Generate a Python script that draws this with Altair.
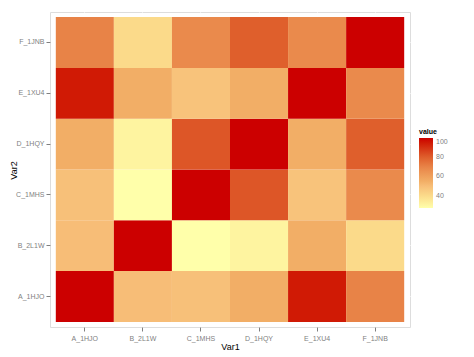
import altair as alt
import pandas as pd

names = ["A_1HJO", "B_2L1W", "C_1MHS", "D_1HQY", "E_1XU4", "F_1JNB"]

# rows = Var2, columns = Var1 (same order as names)
row_A = [100, 50, 49, 55, 95, 70]
row_B = [50, 100, 27, 31, 55, 40]
row_C = [49, 27, 100, 82, 48, 68]
row_D = [55, 31, 82, 100, 55, 80]
row_E = [95, 55, 48, 55, 100, 68]
row_F = [70, 40, 68, 80, 68, 100]

legend_values = [40, 60, 80, 100]
color_stops = [27, 40, 50, 55, 68, 80, 95, 100]
color_range = ["#FFFFAA", "#FBDA8A", "#F7BD77", "#F2AE66", "#EA8A4C",
               "#DF5F2C", "#D01A05", "#CC0000"]

rows = [row_A, row_B, row_C, row_D, row_E, row_F]
records = []
for i, v2 in enumerate(names):
    for j, v1 in enumerate(names):
        records.append({"Var1": v1, "Var2": v2, "value": rows[i][j]})
df = pd.DataFrame(records)

axis_common = dict(domain=False, bandPosition=0.5, grid=True, gridColor="white",
                   gridWidth=1, tickColor="#7F7F7F", tickSize=4, zindex=0,
                   labelColor="#7F7F7F", labelFontSize=7,
                   labelFont="Liberation Sans",
                   titleFont="Liberation Sans", titleFontSize=9,
                   titleFontWeight="normal", titleColor="#000000")

chart = alt.Chart(df).mark_rect().encode(
    x=alt.X("Var1:N", sort=names,
            scale=alt.Scale(paddingInner=0, paddingOuter=0.1),
            axis=alt.Axis(title="Var1", labelAngle=0, labelPadding=3,
                          titlePadding=1, **axis_common)),
    y=alt.Y("Var2:N", sort=list(reversed(names)),
            scale=alt.Scale(paddingInner=0, paddingOuter=0.1),
            axis=alt.Axis(title="Var2", labelPadding=2, titleX=-37,
                          titleY=158, titleAngle=270, titleBaseline="middle",
                          titleAlign="center", **axis_common)),
    color=alt.Color("value:Q",
                    scale=alt.Scale(domain=color_stops, range=color_range,
                                    interpolate="rgb", zero=False),
                    legend=alt.Legend(title="value", values=legend_values,
                                      orient="none", legendX=369, legendY=116,
                                      gradientLength=70, gradientThickness=14,
                                      titleFontSize=7, titleFontWeight="bold",
                                      titleColor="#000000",
                                      titleFont="Liberation Sans",
                                      labelFont="Liberation Sans",
                                      labelFontSize=7, labelColor="#7F7F7F",
                                      titlePadding=3, labelOffset=3)),
).properties(
    width=360,
    height=315,
    autosize=alt.AutoSizeParams(type="none"),
    padding={"left": 42, "top": 4, "right": 56, "bottom": 25},
).configure_view(
    fill="#E5E5E5", stroke=None
).configure(background="white")

chart.save("out.html", embed_options={"renderer": "svg", "actions": False})
